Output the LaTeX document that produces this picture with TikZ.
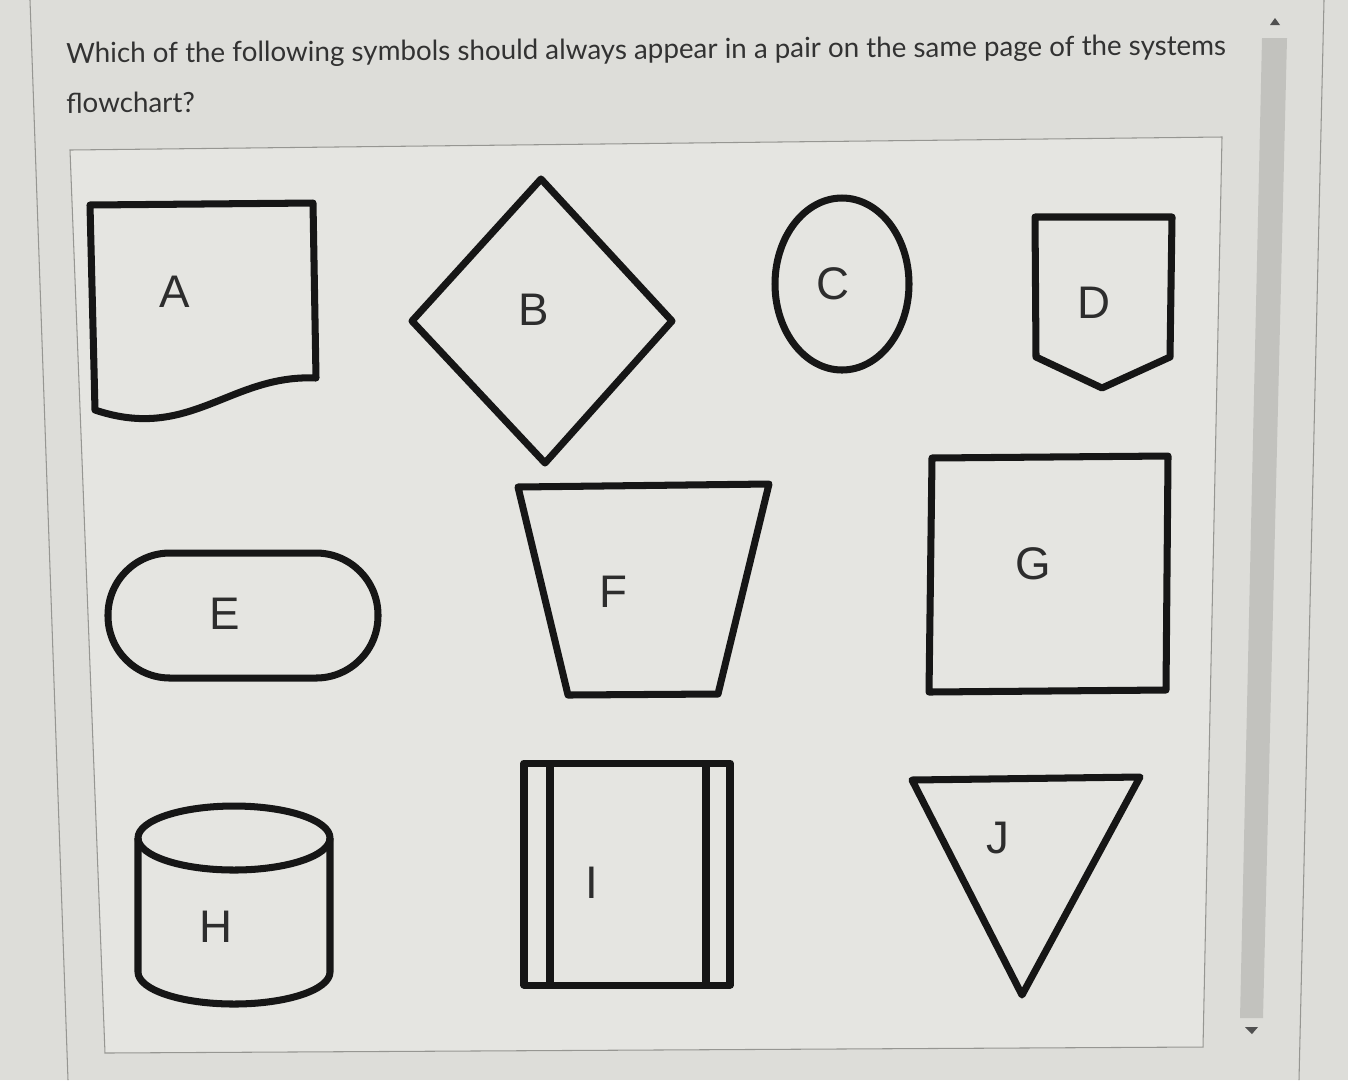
\documentclass[tikz,border=0pt]{standalone}
\usepackage{fontspec}
\setmainfont{Liberation Sans}
\newfontfamily\qfont{Lato}
\definecolor{screen}{RGB}{221,221,217}
\definecolor{panel}{RGB}{229,229,225}
\definecolor{ink}{RGB}{22,22,22}
\definecolor{qtext}{RGB}{50,50,50}
\definecolor{rule}{RGB}{150,150,146}
\definecolor{sbar}{RGB}{194,194,190}
\tikzset{
    symbol/.style = {line width=4pt, draw=ink, line join=round},
    letter/.style = {text=ink!90, font=\fontsize{26}{28}\selectfont, inner sep=0pt},
    question/.style = {text=qtext, font=\qfont\fontsize{15.8}{18}\selectfont, anchor=base west, inner sep=0pt, rotate=0.4},
    frame/.style = {draw=rule, line width=0.6pt},
    arrowtip/.style = {fill=ink!75, draw=none}
}
\begin{document}
\begin{tikzpicture}[x=0.02cm,y=-0.02cm]
\useasboundingbox (0,0) rectangle (1348,1080);
\fill[screen] (0,0) rectangle (1348,1080);
% page, panel and scroll bar
\draw[frame] (30,0) -- (68,1080);
\draw[frame] (1324,0) -- (1299,1080);
\filldraw[frame, fill=panel] (70,150) -- (1222,137) -- (1203,1047) -- (105,1053) -- cycle;
\fill[sbar] (1262,38) -- (1287,38) -- (1263,1018) -- (1240,1018) -- cycle;
\fill[arrowtip] (1275,18) -- (1280,25) -- (1270,25) -- cycle;
\fill[arrowtip] (1245,1027) -- (1258,1027) -- (1252,1034) -- cycle;
%
\node[question] at (66,63) (q1) {Which of the following symbols should always appear in a pair on the same page of the systems};
\node[question] at (66,113) (q2) {flowchart?};
% symbols
\draw[symbol] (90,205) -- (313,203) -- (316,378) .. controls (230,374) and (190,442) .. (95,410) -- cycle;
\draw[symbol] (541,179) -- (672,321) -- (545,463) -- (412,321) -- cycle;
\draw[symbol] (842,284) ellipse [x radius=67, y radius=86];
\draw[symbol] (1035,217) -- (1172,217) -- (1170,357) -- (1102,388) -- (1036,357) -- cycle;
\draw[symbol, rounded corners=1.24cm] (108,553) rectangle (378,678);
\draw[symbol] (518,487) -- (769,484) -- (718,694) -- (568,695) -- cycle;
\draw[symbol] (932,458) -- (1168,456) -- (1166,690) -- (929,692) -- cycle;
\draw[symbol] (138,838) -- (138,972) arc[start angle=180, end angle=0, x radius=96, y radius=32] -- (330,838);
\draw[symbol] (234,838) ellipse [x radius=96, y radius=32];
\draw[symbol] (524,763) rectangle (730,985);
\draw[symbol] (550,763) -- (550,985);
\draw[symbol] (706,763) -- (706,985);
\draw[symbol] (912,780) -- (1140,777) -- (1022,995) -- cycle;
% labels
\node[letter] at (175,292) (lA) {A};
\node[letter] at (534,310) (lB) {B};
\node[letter] at (833,284) (lC) {C};
\node[letter] at (1094,303) (lD) {D};
\node[letter] at (225,614) (lE) {E};
\node[letter] at (613,592) (lF) {F};
\node[letter] at (1033,564) (lG) {G};
\node[letter] at (216,927) (lH) {H};
\node[letter] at (592,883) (lI) {I};
\node[letter] at (998,838) (lJ) {J};

\end{tikzpicture}
\end{document}
